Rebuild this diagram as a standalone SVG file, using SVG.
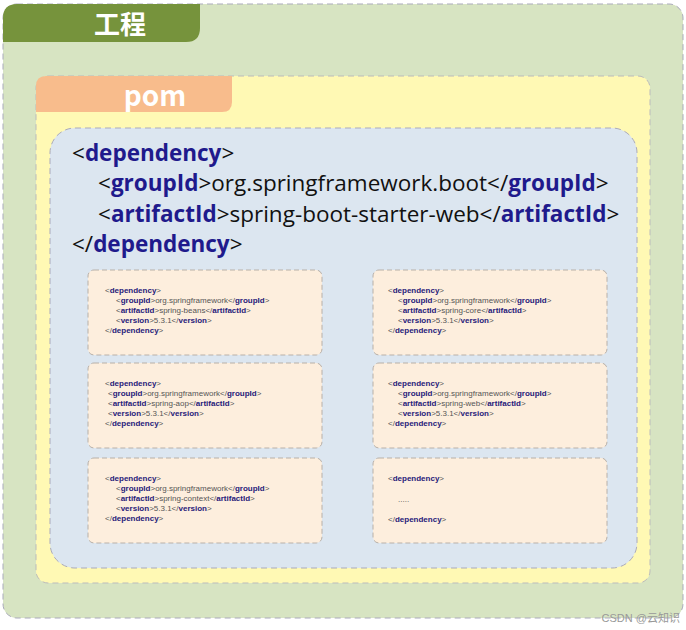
<svg xmlns="http://www.w3.org/2000/svg" width="686" height="630" viewBox="0 0 686 630">
<style>
.big{font-family:"Open Sans","Liberation Sans",sans-serif;font-size:22.5px;fill:#111}
.big .k{fill:#1f1a8c;font-weight:bold}
.sm{font-family:"Liberation Sans",sans-serif;font-size:8px;fill:#555}
.sm .k{fill:#27207a;font-weight:bold}
.box{fill:#fdeedd;stroke:#b8b0a8;stroke-dasharray:5 3;stroke-width:1}
.tab{font-family:"Noto Sans CJK SC","Liberation Sans",sans-serif;font-weight:bold;fill:#fff}
</style>
<rect width="686" height="630" fill="#fff"/>
<g id="project">
<rect x="3" y="4" width="680" height="614" rx="14" fill="#d7e4c2" stroke="#aab" stroke-dasharray="6 4"/>
<path d="M3 42 V18 Q3 4 17 4 H200 V28 Q200 42 186 42 Z" fill="#76933c"/>
<text x="120" y="34" class="tab" font-size="26" text-anchor="middle">工程</text>
</g>
<g id="pom">
<rect x="36" y="76" width="614" height="507" rx="12" fill="#fff9b4" stroke="#bbb" stroke-dasharray="6 4"/>
<path d="M36 112 V86 Q36 76 46 76 H232 V102 Q232 112 222 112 Z" fill="#f8bc8c"/>
<text x="155" y="106" class="tab" font-size="28" text-anchor="middle">pom</text>
</g>
<g id="deps">
<rect x="50" y="128" width="587" height="440" rx="25" fill="#dce6f0" stroke="#aab" stroke-dasharray="6 4"/>
<text class="big" x="72" y="161">&lt;<tspan class="k">dependency</tspan>&gt;</text>
<text class="big" x="98" y="191">&lt;<tspan class="k">groupId</tspan>&gt;org.springframework.boot&lt;/<tspan class="k">groupId</tspan>&gt;</text>
<text class="big" x="98" y="222">&lt;<tspan class="k">artifactId</tspan>&gt;spring-boot-starter-web&lt;/<tspan class="k">artifactId</tspan>&gt;</text>
<text class="big" x="72" y="252">&lt;/<tspan class="k">dependency</tspan>&gt;</text>
</g>
<g id="beans">
<rect class="box" x="88" y="270" width="234" height="85" rx="6"/>
<text class="sm" x="105" y="293">&lt;<tspan class="k">dependency</tspan>&gt;</text>
<text class="sm" x="116" y="303">&lt;<tspan class="k">groupId</tspan>&gt;org.springframework&lt;/<tspan class="k">groupId</tspan>&gt;</text>
<text class="sm" x="116" y="313">&lt;<tspan class="k">artifactId</tspan>&gt;spring-beans&lt;/<tspan class="k">artifactId</tspan>&gt;</text>
<text class="sm" x="116" y="323">&lt;<tspan class="k">version</tspan>&gt;5.3.1&lt;/<tspan class="k">version</tspan>&gt;</text>
<text class="sm" x="105" y="333">&lt;/<tspan class="k">dependency</tspan>&gt;</text>
</g>
<g id="core">
<rect class="box" x="373" y="270" width="234" height="85" rx="6"/>
<text class="sm" x="388" y="293">&lt;<tspan class="k">dependency</tspan>&gt;</text>
<text class="sm" x="398" y="303">&lt;<tspan class="k">groupId</tspan>&gt;org.springframework&lt;/<tspan class="k">groupId</tspan>&gt;</text>
<text class="sm" x="398" y="313">&lt;<tspan class="k">artifactId</tspan>&gt;spring-core&lt;/<tspan class="k">artifactId</tspan>&gt;</text>
<text class="sm" x="398" y="323">&lt;<tspan class="k">version</tspan>&gt;5.3.1&lt;/<tspan class="k">version</tspan>&gt;</text>
<text class="sm" x="388" y="333">&lt;/<tspan class="k">dependency</tspan>&gt;</text>
</g>
<g id="aop">
<rect class="box" x="88" y="363" width="234" height="85" rx="6"/>
<text class="sm" x="105" y="386">&lt;<tspan class="k">dependency</tspan>&gt;</text>
<text class="sm" x="108" y="396">&lt;<tspan class="k">groupId</tspan>&gt;org.springframework&lt;/<tspan class="k">groupId</tspan>&gt;</text>
<text class="sm" x="108" y="406">&lt;<tspan class="k">artifactId</tspan>&gt;spring-aop&lt;/<tspan class="k">artifactId</tspan>&gt;</text>
<text class="sm" x="108" y="416">&lt;<tspan class="k">version</tspan>&gt;5.3.1&lt;/<tspan class="k">version</tspan>&gt;</text>
<text class="sm" x="105" y="426">&lt;/<tspan class="k">dependency</tspan>&gt;</text>
</g>
<g id="web">
<rect class="box" x="373" y="363" width="234" height="85" rx="6"/>
<text class="sm" x="388" y="386">&lt;<tspan class="k">dependency</tspan>&gt;</text>
<text class="sm" x="398" y="396">&lt;<tspan class="k">groupId</tspan>&gt;org.springframework&lt;/<tspan class="k">groupId</tspan>&gt;</text>
<text class="sm" x="398" y="406">&lt;<tspan class="k">artifactId</tspan>&gt;spring-web&lt;/<tspan class="k">artifactId</tspan>&gt;</text>
<text class="sm" x="398" y="416">&lt;<tspan class="k">version</tspan>&gt;5.3.1&lt;/<tspan class="k">version</tspan>&gt;</text>
<text class="sm" x="388" y="426">&lt;/<tspan class="k">dependency</tspan>&gt;</text>
</g>
<g id="context">
<rect class="box" x="88" y="458" width="234" height="85" rx="6"/>
<text class="sm" x="105" y="481">&lt;<tspan class="k">dependency</tspan>&gt;</text>
<text class="sm" x="116" y="491">&lt;<tspan class="k">groupId</tspan>&gt;org.springframework&lt;/<tspan class="k">groupId</tspan>&gt;</text>
<text class="sm" x="116" y="501">&lt;<tspan class="k">artifactId</tspan>&gt;spring-context&lt;/<tspan class="k">artifactId</tspan>&gt;</text>
<text class="sm" x="116" y="511">&lt;<tspan class="k">version</tspan>&gt;5.3.1&lt;/<tspan class="k">version</tspan>&gt;</text>
<text class="sm" x="105" y="521">&lt;/<tspan class="k">dependency</tspan>&gt;</text>
</g>
<g id="more">
<rect class="box" x="373" y="458" width="234" height="85" rx="6"/>
<text class="sm" x="388" y="481">&lt;<tspan class="k">dependency</tspan>&gt;</text>
<text class="sm" x="398" y="502">.....</text>
<text class="sm" x="388" y="522">&lt;/<tspan class="k">dependency</tspan>&gt;</text>
</g>
<g id="connectors"></g>
<text x="680" y="622" font-family="'Liberation Sans','Noto Sans CJK SC',sans-serif" font-size="11" fill="#999" text-anchor="end">CSDN @云知识</text>
</svg>
